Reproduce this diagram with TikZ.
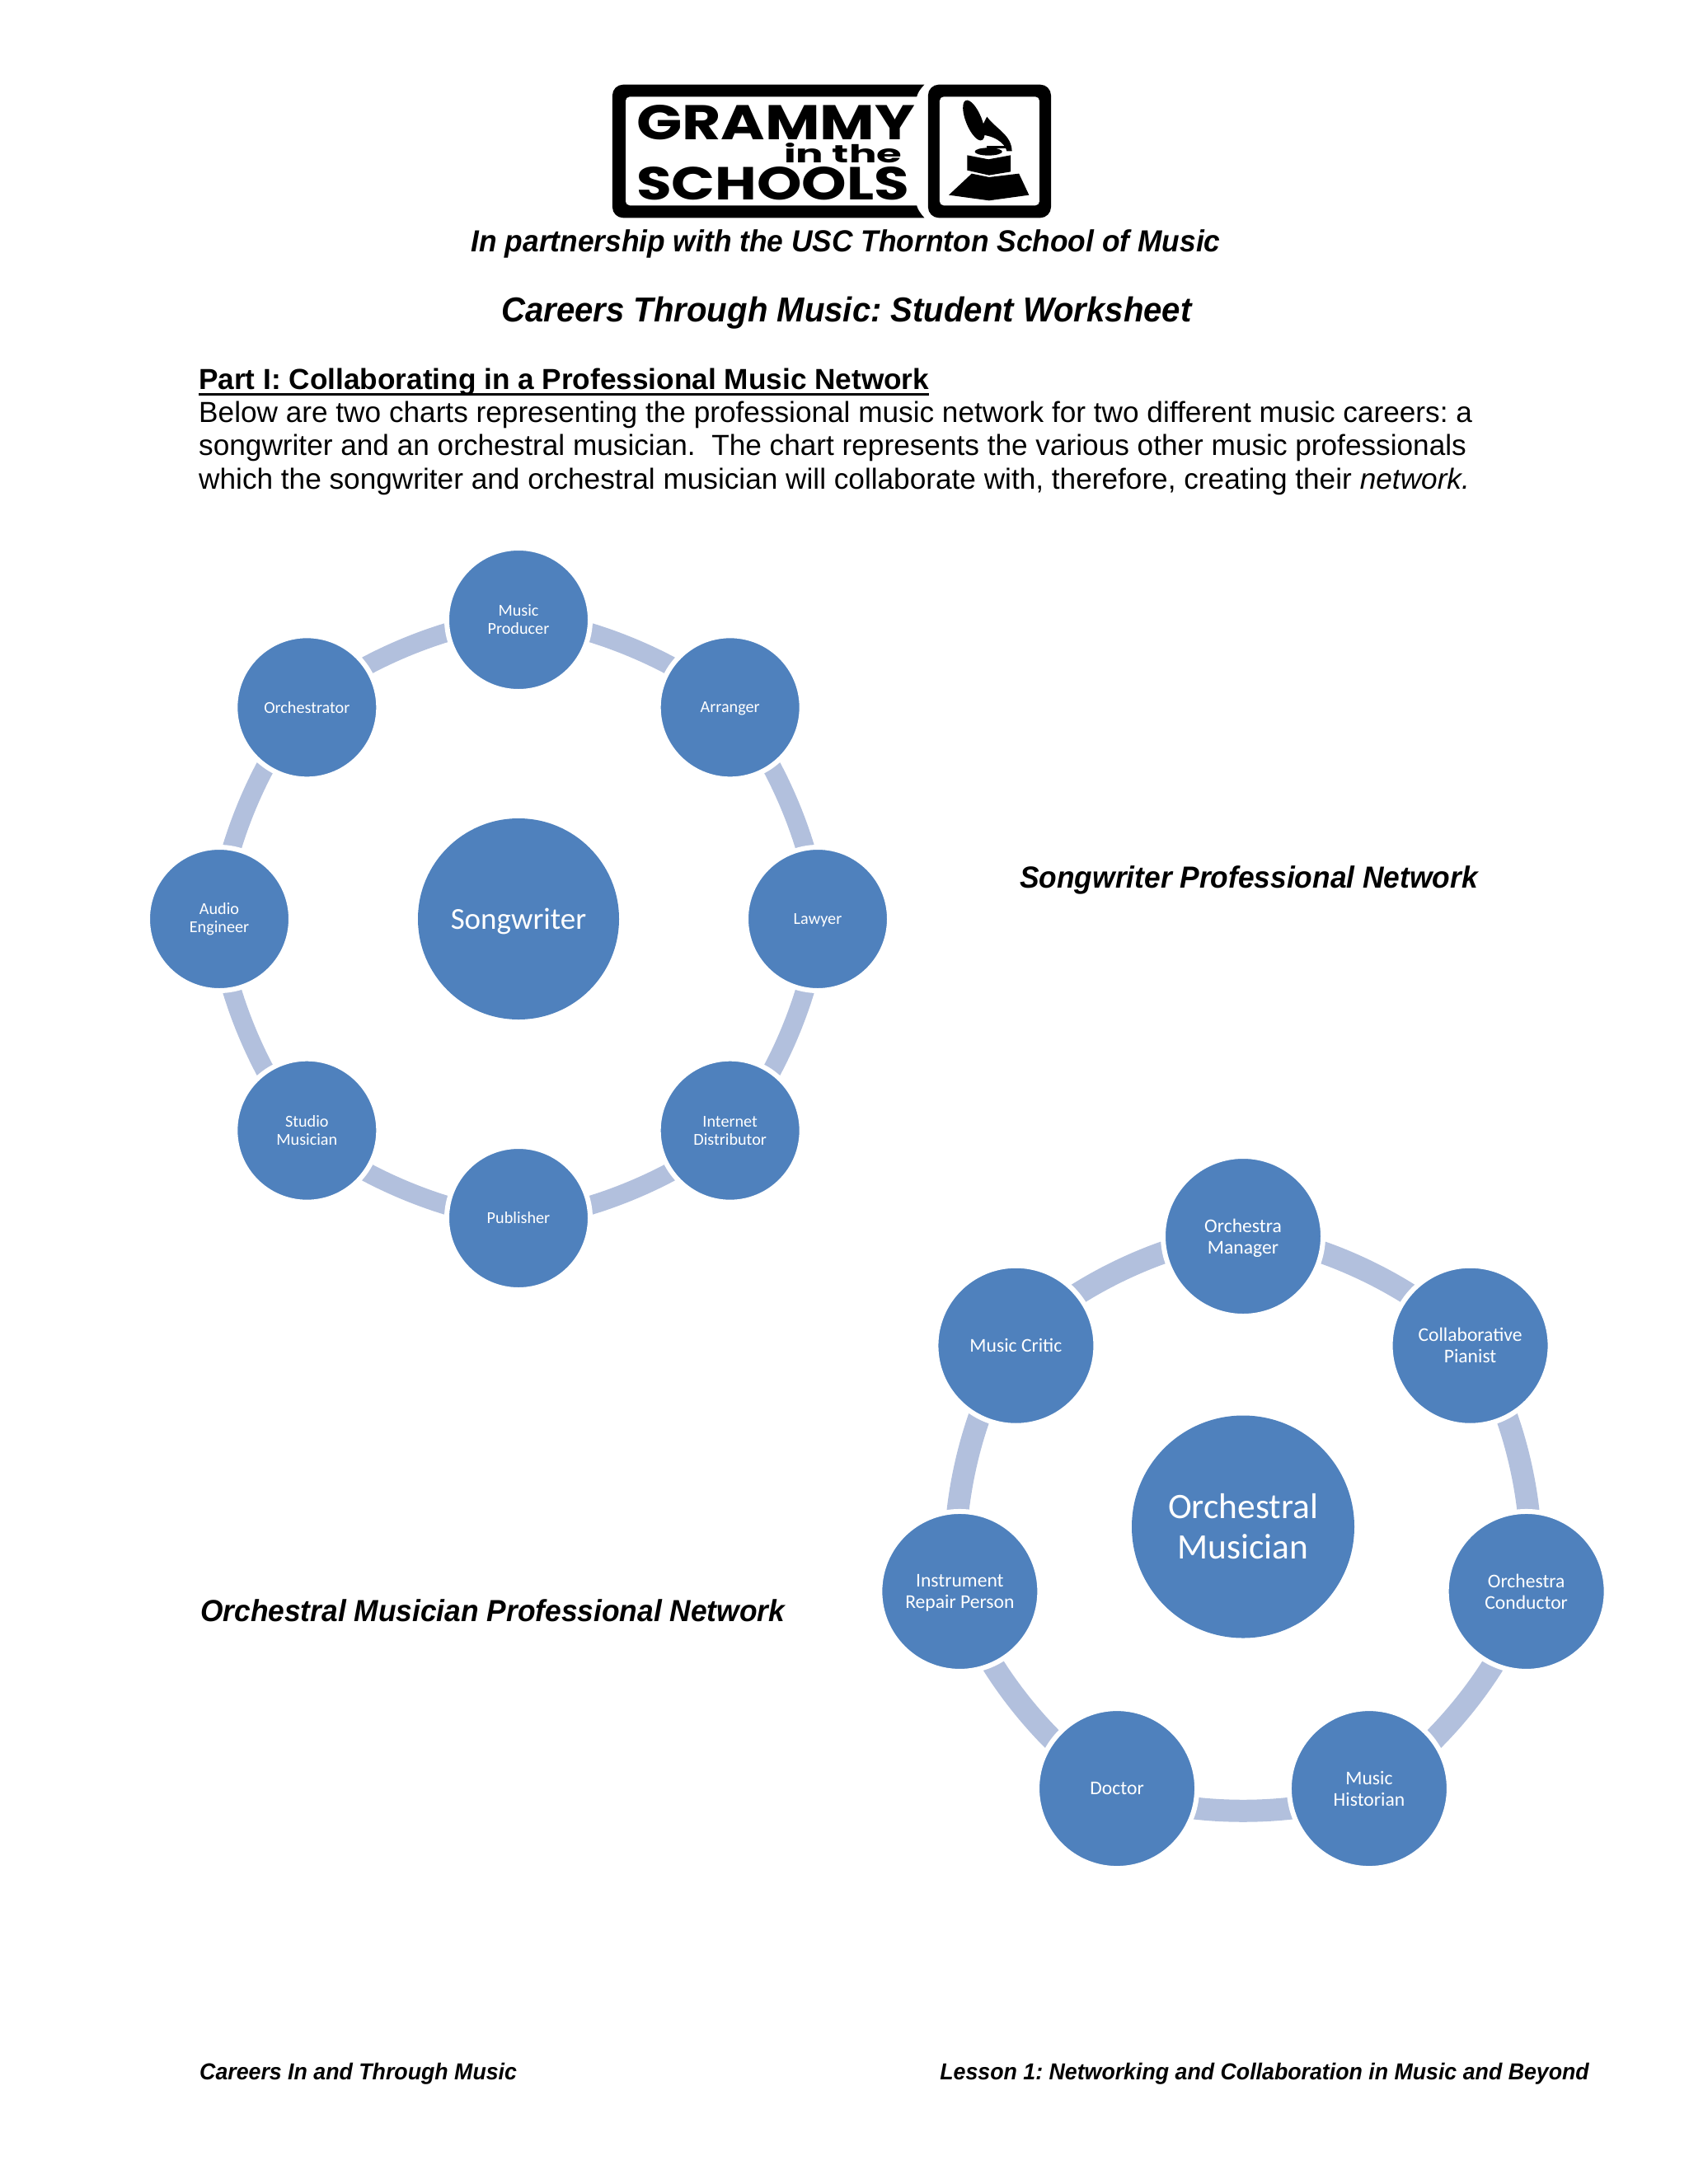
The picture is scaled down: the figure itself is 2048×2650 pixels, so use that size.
\documentclass[tikz,border=0pt]{standalone}
\usepackage{fontspec}
\setmainfont{Liberation Sans}
\newfontfamily\narrowfont[FakeStretch=0.955]{Liberation Sans}
\newfontfamily\smartfont{Carlito}
\newfontfamily\logofont{Poppins}
\usetikzlibrary{backgrounds}
\definecolor{hub}{RGB}{79,129,189}
\definecolor{band}{RGB}{178,192,221}
\newcommand{\nodepth}[1]{\raisebox{0pt}[\height][0pt]{#1}}
\frenchspacing
\tikzset{
  page text/.style={inner sep=0pt,anchor=base west,font=\fontsize{35.2}{40.5}\selectfont},
  title text/.style={inner sep=0pt,anchor=base,font=\narrowfont\fontsize{37}{40}\selectfont\bfseries\itshape},
  foot text/.style={inner sep=0pt,font=\narrowfont\fontsize{28}{32}\selectfont\bfseries\itshape},
  ring small/.style={circle,fill=hub,draw=white,line width=6pt,minimum size=174pt,inner sep=0pt,align=center,text=white,font=\smartfont\fontsize{20.2}{22}\selectfont},
  ring large/.style={circle,fill=hub,draw=white,line width=6pt,minimum size=194pt,inner sep=0pt,align=center,text=white,font=\smartfont\fontsize{23.6}{26}\selectfont},
  band line/.style={draw=band,line width=23pt},
  logo letters/.style={inner sep=0pt,anchor=base west,font=\logofont\bfseries}
}
\begin{document}
\begin{tikzpicture}[x=1pt,y=-1pt]
\useasboundingbox (0,0) rectangle (2048,2650);
% logo
\begin{scope}[shift={(720,80)},x=0.37pt,y=-0.3333pt]
\fill[black] [rounded corners=13pt] (1085,68) -- (62,68) -- (62,553) [sharp corners] -- (1085,553) .. controls (1070,535) and (1062,520) .. (1060,508) [rounded corners=5pt] -- (105,508) -- (105,112) [sharp corners] -- (1060,112) .. controls (1062,100) and (1070,85) .. (1085,68) -- cycle;
\fill[black,rounded corners=13pt] (1097,68) rectangle (1500,553);
\fill[white,rounded corners=5pt] (1135,112) rectangle (1462,508);
\fill[black] (1165,470) -- (1240,392) -- (1297,405) -- (1395,392) -- (1428,470) -- (1297,490) -- cycle;
\fill[black] (1225,325) -- (1295,340) -- (1368,325) -- (1368,385) -- (1297,398) -- (1225,380) -- cycle;
\fill[black] (1295,312) ellipse [x radius=45,y radius=14];
\fill[black] (1290,290) rectangle (1365,300);
\fill[black,rotate around={22:(1247,198)}] (1247,198) ellipse [x radius=26,y radius=78];
\fill[black] (1290,185) .. controls (1320,230) and (1370,250) .. (1372,310) -- (1355,310) .. controls (1350,280) and (1310,250) .. (1260,250) -- cycle;
\end{scope}
\node[logo letters] (logoa) at (772,169) {\resizebox{338pt}{42pt}{GRAMMY}};
\node[logo letters] (logob) at (951,197) {\resizebox{143pt}{24pt}{in the}};
\node[logo letters] (logoc) at (772,242) {\resizebox{331pt}{40pt}{SCHOOLS}};
% headings
\node[title text] (tpartner) at (1026,305.5) {In partnership with the USC Thornton School of Music};
\node[title text,font=\narrowfont\fontsize{42}{46}\selectfont\bfseries\itshape] (tcareers) at (1027,390) {Careers Through Music: Student Worksheet};
\node[page text,font=\fontsize{35.2}{40}\selectfont\bfseries] (tpart) at (241,472.5) {Part I: Collaborating in a Professional Music Network};
\draw[black,line width=3.5pt] ([yshift=-6pt]tpart.base west) -- ([yshift=-6pt]tpart.base east);
\node[page text] (tl1) at (241,512.5) {Below are two charts representing the professional music network for two different music careers: a};
\node[page text] (tl2) at (241,552.5) {songwriter and an orchestral musician.\ \ The chart represents the various other music professionals};
\node[page text] (tl3) at (241,593) {which the songwriter and orchestral musician will collaborate with, therefore, creating their \textit{network.}};
% songwriter network
\node[circle,fill=hub,minimum size=244pt,inner sep=0pt,text=white,font=\smartfont\fontsize{37}{40}\selectfont] (sw) at (629,1115) {\nodepth{Songwriter}};
\foreach \nm/\ang/\txt in {s1/90/Music\\Producer,s2/45/\nodepth{Arranger},s3/0/\nodepth{Lawyer},s4/-45/Internet\\Distributor,s5/-90/Publisher,s6/-135/Studio\\Musician,s7/180/Audio\\Engineer,s8/135/Orchestrator}
  \node[ring small] (\nm) at ({629+363*cos(\ang)},{1115-363*sin(\ang)}) {\txt};
\begin{scope}[on background layer]
\foreach \p/\q in {s1/s2,s2/s3,s3/s4,s4/s5,s5/s6,s6/s7,s7/s8,s8/s1}
  \draw[band line] (\p.center) to[bend left=22.5,looseness=0.69] (\q.center);
\end{scope}
% orchestral network
\node[circle,fill=hub,minimum size=270pt,inner sep=0pt,align=center,text=white,font=\smartfont\fontsize{43.4}{49}\selectfont] (om) at (1508,1852.5) {Orchestral\\Musician};
\foreach \nm/\ang/\txt in {m1/90/Orchestra\\\nodepth{Manager},m2/38.571/Collaborative\\Pianist,m3/-12.857/Orchestra\\Conductor,m4/-64.286/Music\\Historian,m5/-115.714/Doctor,m6/-167.143/Instrument\\\nodepth{Repair Person},m7/141.429/Music Critic}
  \node[ring large] (\nm) at ({1508+352.5*cos(\ang)},{1852.5-352.5*sin(\ang)}) {\txt};
\begin{scope}[on background layer]
\foreach \p/\q in {m1/m2,m2/m3,m3/m4,m4/m5,m5/m6,m6/m7,m7/m1}
  \draw[band line,line width=27pt] (\p.center) to[bend left=25.714,looseness=0.70] (\q.center);
\end{scope}
% captions
\node[title text,anchor=base west] (tsong) at (1237,1077) {Songwriter Professional Network};
\node[title text,anchor=base west] (torch) at (243,1967) {Orchestral Musician Professional Network};
\node[foot text,anchor=base west] (fl) at (242,2523) {Careers In and Through Music};
\node[foot text,anchor=base east] (fr) at (1928,2523) {Lesson 1: Networking and Collaboration in Music and Beyond};
\end{tikzpicture}
\end{document}
